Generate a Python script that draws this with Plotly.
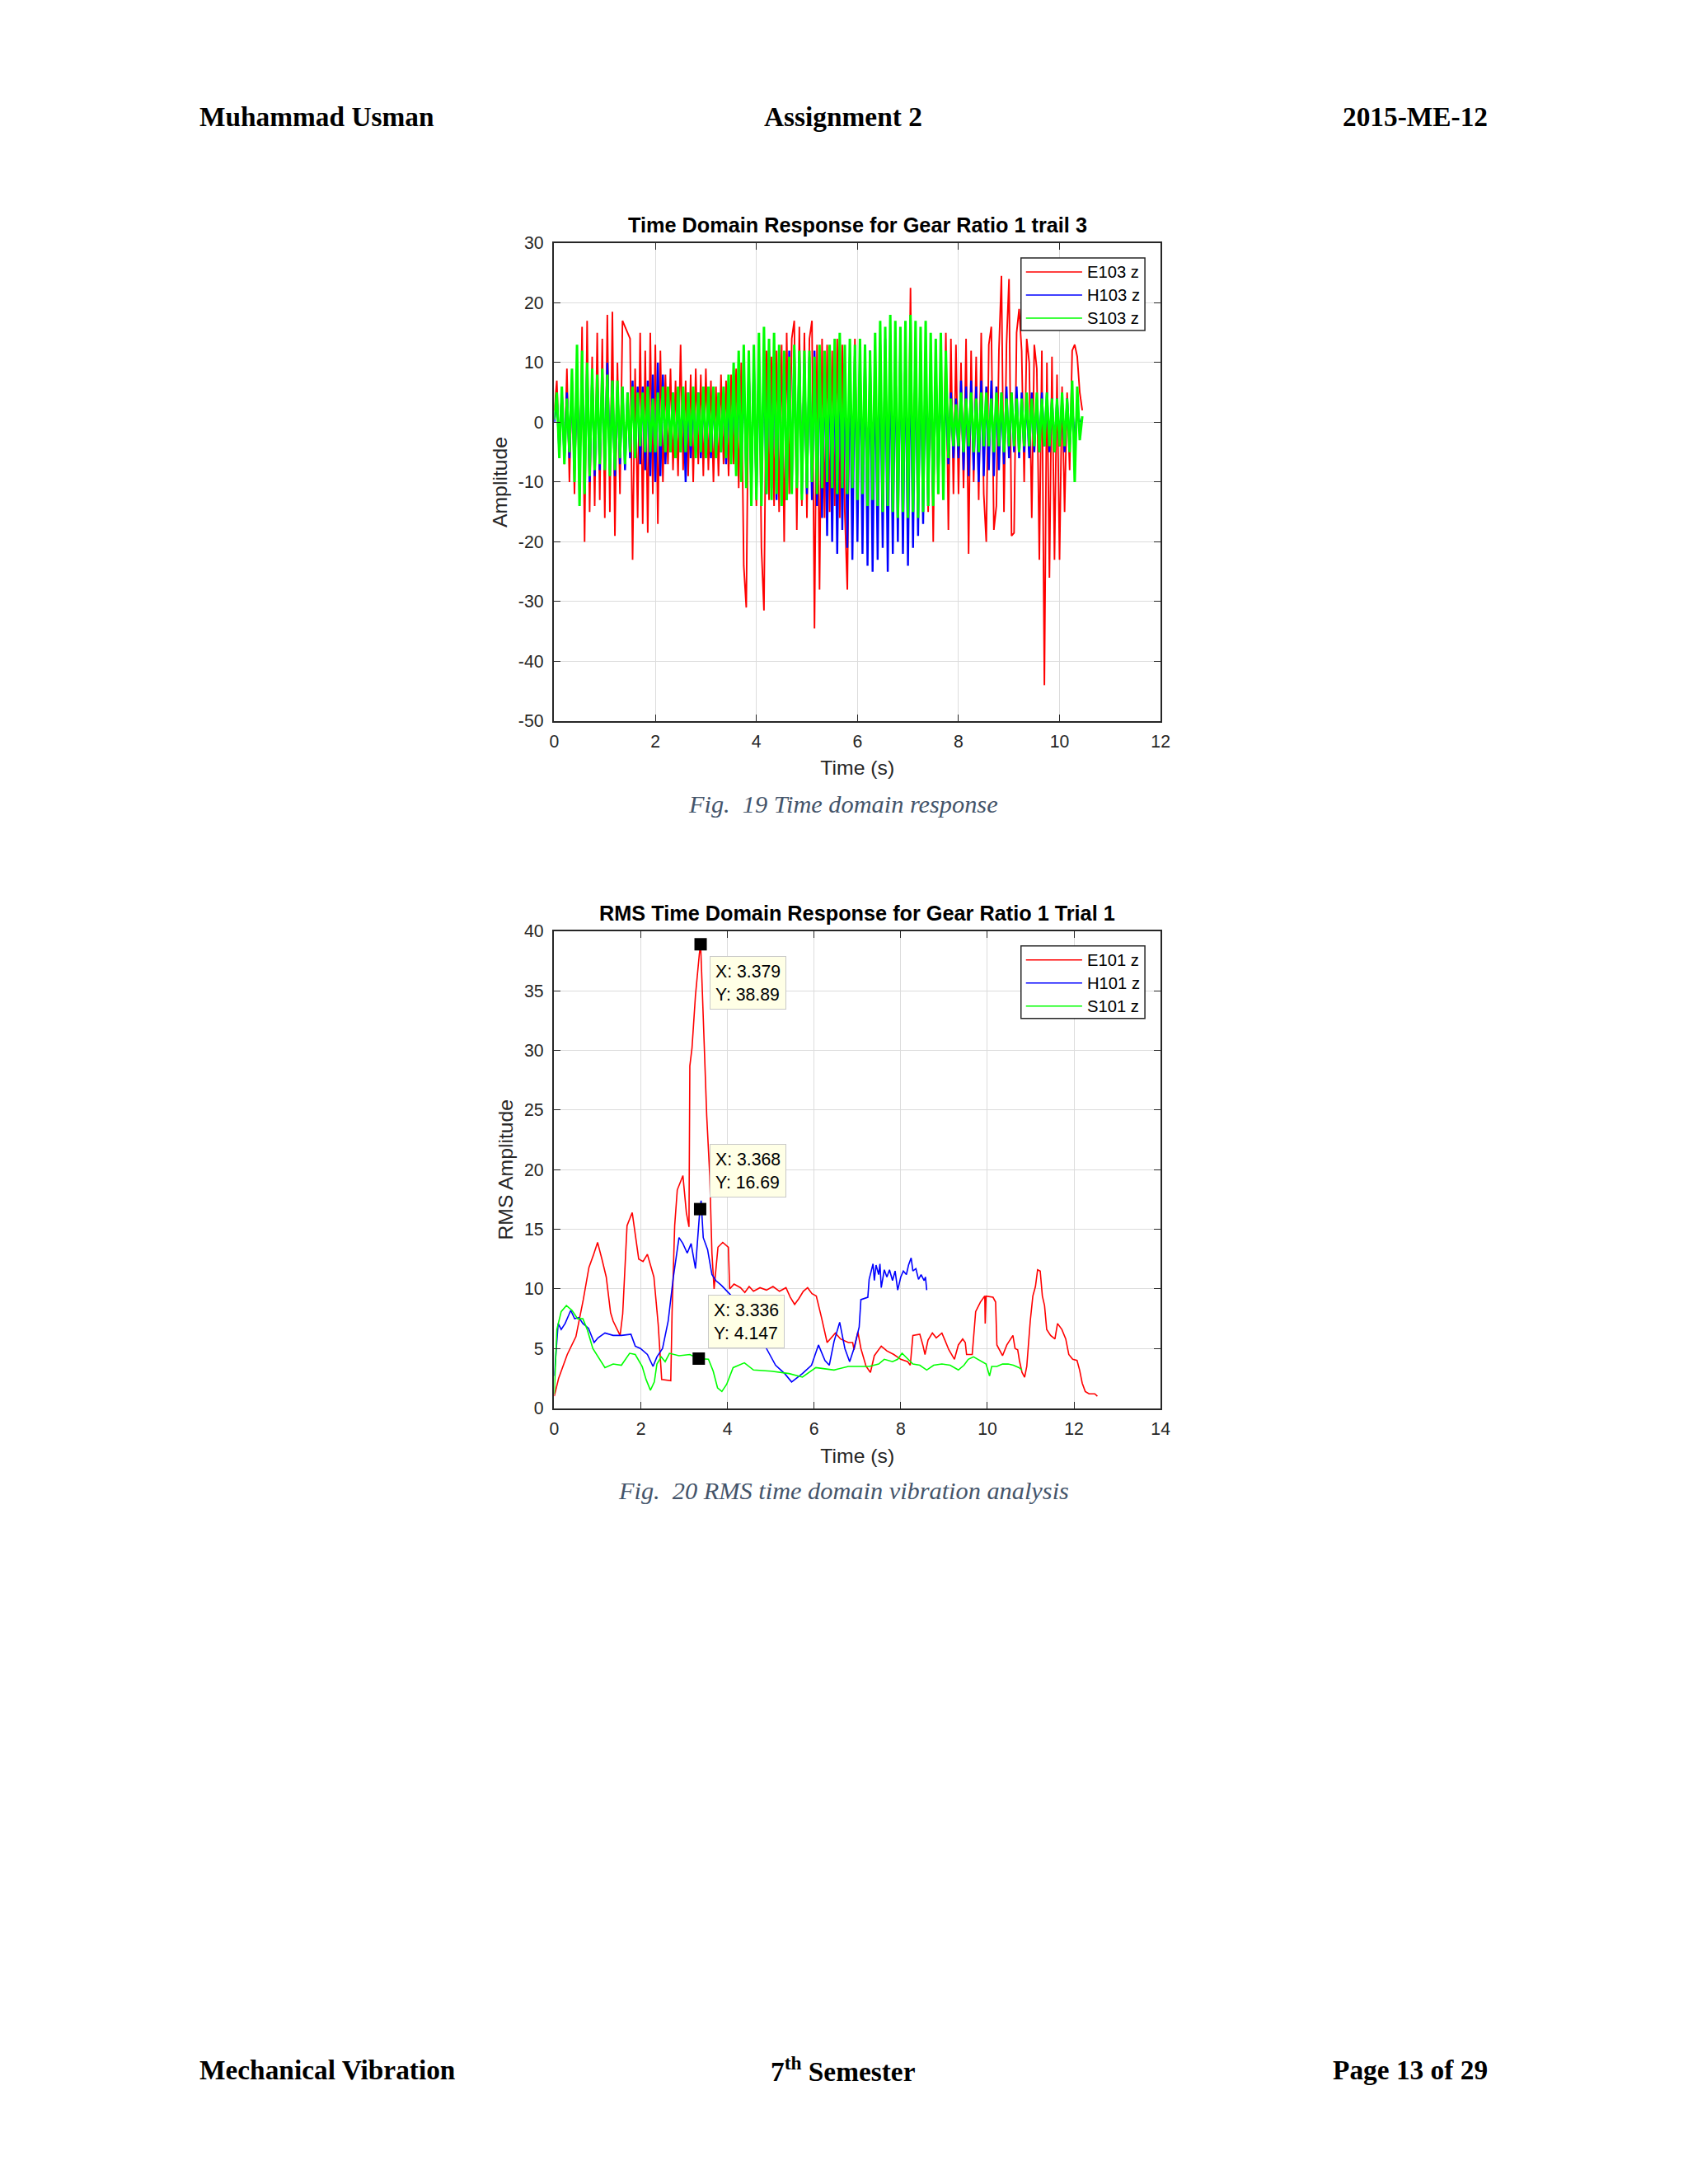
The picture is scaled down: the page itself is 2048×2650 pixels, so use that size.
import numpy as np
import plotly.graph_objects as go

# ---------------- Top chart: raw time-domain signals (Gear Ratio 1, trail 3) -------------
dt_raw = 0.05  # sample step of the digitised signals (s)

e103_z = [
    2, 7, -5, 6, -7, 9, -10, 8, -12, 10, -13, 16, -20, 17, -15, 11, -14, 15, -13, 14,
    -16, 18, -15, 18.5, -19, 10, -12, 17, 16, 15, 14, -23, 9, -16, 15, -17, 12, -18.5, 15, -12,
    13, -17, 12, -10, 8, -7, 9, -8, 7, -9, 13, -8, 7, -9, 8, -10, 9, -7, 8, -9,
    9, -8, 7, -10, 6, -9, 8, -7, 7, -9, 8, -7, 9, -11, 10, -24, -31, 12, -12, 11,
    -14, 13, -21, -31.5, 12, -13, 11, -14, 12, -15, 13, -20, 15, -12, 14, 17, -18, 16, -14, 15,
    -16, 14, 17, -34.5, 13, -28, 14, -16, 13, -15, 12, -14, 14, -16, 13, -15, -28, 12, -13, 14,
    -13, 12, -14, 13, -15, 12, -16, 13, -14, 12, -15, 14, -13, 12, -16, 13, -14, 15, -13, 14,
    -14, 22.5, -15, 14, -13, 12, -14, 13, -15, 12, -20, 13, -12, 11, -10, 15, -18, 14, -12, 13,
    -12, 10, -11, 14, -22, 12, -10, 11, -13, 15, -12, -20, 13, 16, -18, -14, 12, 24.5, -15, 13,
    24, -19, -18.5, 15, 19, 12, -10, 14, 10, -16, 13, 9, -23, 12, -44, 10, -26, 11, -23, 8,
    -23, 6, -15, 5, -8, 12, 13, 11, 5, 2,
]

h103_z = [
    0, 4, -5, 5, -6, 5, -6, 7, -8, 6, -7, 8, -7, 9, -10, 8, -9, 7, -8, 8,
    -7, 10, -8, 7, -9, 6, -7, 6, -8, 5, -6, 7, -6, 6, -7, 6, -8, 7, -9, 8,
    -10, 10, -9, 8, -7, 5, -5, 5, -6, 4, -5, 5, -10, 5, -6, 4, -5, 5, -6, 4,
    -5, 4, -6, 4, -5, 4, -5, 5, -7, 4, -5, 5, -6, 6, -8, 8, -9, 9, -11, 10,
    -12, 11, -11, 10, -12, 12, -11, 10, -13, 11, -12, 10, -13, 12, -11, 12, -10, 11, -12, 10,
    -12, 11, -13, 12, -14, 10, -16, 11, -19, 12, -20, 11, -22, 12, -18, 10, -21, 11, -23, 12,
    -20, 12, -22, 13, -24, 12, -25, 11, -23, 13, -21, 14, -25, 13, -22, 12, -20, 14, -22, 13,
    -24, 12, -21, 13, -19, 12, -17, 11, -14, 10, -13, 9, -10, 8, -9, 6, -7, 5, -6, 4,
    -6, 7, -8, 6, -9, 7, -8, 6, -10, 7, -9, 6, -8, 7, -9, 6, -8, 5, -7, 6,
    -6, 5, -5, 6, -6, 5, -5, 4, -6, 5, -5, 4, -5, 5, -4, 5, -5, 4, -5, 4,
    -4, 4, -5, 4, -4, 3, -3, 2, 0,
]

s103_z = [
    0.5, 5, -6, 6, -7, 4, -5, 9, -10, 13, -14, 12, -12, 10, -9, 9, -8, 8, -7, 9,
    -8, 8, -9, 7, -8, 7, -6, 6, -7, 5, -5, 6, -6, 5, -4, 5, -5, 6, -5, 4,
    -5, 5, -4, 6, -5, 6, -5, 5, -6, 6, -5, 6, -5, 5, -4, 6, -6, 5, -5, 6,
    -6, 6, -5, 6, -6, 5, -5, 6, -6, 8, -7, 10, -9, 12, -10, 13, -11, 12, -14, 13,
    -13, 15, -14, 16, -12, 14, -13, 15, -12, 13, -14, 12, -13, 11, -12, 13, -11, 12, -13, 12,
    -11, 12, -10, 11, -12, 13, -11, 12, -10, 13, -11, 14, -12, 15, -11, 13, -12, 14, -11, 13,
    -13, 14, -12, 13, -14, 12, -13, 15, -14, 17, -15, 16, -14, 18, -15, 17, -16, 16, -15, 17,
    -16, 18, -15, 17, -16, 16, -15, 17, -14, 15, -14, 14, -12, 15, -13, 12, -6, 4, -4, 3,
    -4, 5, -5, 4, -4, 5, -5, 4, -5, 5, -4, 5, -4, 4, -5, 5, -4, 5, -5, 4,
    -4, 5, -4, 4, -5, 4, -4, 5, -4, 4, -4, 5, -5, 4, -4, 5, -4, 4, -5, 4,
    -4, 5, -4, 4, -5, 7, -10, 6, -3, 1,
]

# ---------------- Bottom chart: RMS response (Gear Ratio 1, Trial 1), (time, value) -------
e101_rms = [
    (0, 1.0), (0.1, 2.5), (0.3, 4.5), (0.5, 6.0), (0.67, 9.1), (0.8, 11.8), (0.9, 12.8),
    (1.0, 13.9), (1.1, 12.5), (1.2, 11.0), (1.3, 8.0), (1.36, 7.3), (1.52, 6.1), (1.58, 7.9),
    (1.68, 15.3), (1.8, 16.4), (1.95, 12.5), (2.05, 12.3), (2.15, 12.9), (2.3, 11.0),
    (2.4, 7.0), (2.48, 2.4), (2.69, 2.3), (2.72, 8.0), (2.78, 15.3), (2.84, 18.3), (2.97, 19.5),
    (3.05, 16.4), (3.11, 15.2), (3.13, 28.7), (3.18, 30.2), (3.26, 34.6), (3.35, 38.1),
    (3.379, 38.89), (3.42, 34.8), (3.52, 24.5), (3.59, 19.5), (3.64, 13.0), (3.69, 10.0),
    (3.78, 13.5), (3.89, 13.9), (4.02, 13.5), (4.05, 10.0), (4.15, 10.4), (4.3, 10.1),
    (4.4, 9.7), (4.5, 10.2), (4.6, 9.8), (4.75, 10.1), (4.9, 9.9), (5.05, 10.2), (5.2, 9.8),
    (5.35, 10.1), (5.45, 9.3), (5.55, 8.7), (5.65, 9.2), (5.75, 9.8), (5.85, 10.1),
    (5.95, 9.6), (6.05, 9.4), (6.17, 7.6), (6.3, 5.5), (6.49, 6.3), (6.61, 5.8), (6.79, 5.5),
    (6.89, 5.5), (6.92, 4.9), (7.01, 6.4), (7.08, 5.0), (7.2, 3.5), (7.3, 3.0), (7.39, 4.4),
    (7.55, 5.2), (7.68, 4.8), (7.84, 4.5), (8.0, 4.1), (8.16, 3.9), (8.22, 3.6), (8.28, 6.1),
    (8.44, 6.2), (8.51, 5.3), (8.56, 4.5), (8.63, 5.7), (8.73, 6.3), (8.82, 5.9), (8.95, 6.3),
    (9.02, 5.7), (9.11, 4.9), (9.24, 4.1), (9.33, 5.3), (9.43, 5.8), (9.49, 5.5), (9.52, 4.5),
    (9.65, 4.5), (9.73, 8.1), (9.84, 8.9), (9.94, 9.4), (9.95, 7.1), (9.97, 9.4),
    (10.13, 9.3), (10.19, 8.9), (10.22, 5.3), (10.35, 4.4), (10.45, 5.3), (10.59, 6.1),
    (10.64, 5.0), (10.7, 4.9), (10.74, 4.0), (10.8, 3.0), (10.86, 2.6), (10.91, 3.5),
    (10.99, 7.3), (11.05, 9.4), (11.11, 10.2), (11.16, 11.6), (11.22, 11.5), (11.27, 9.4),
    (11.32, 8.6), (11.37, 6.6), (11.46, 6.1), (11.56, 5.8), (11.62, 7.1), (11.72, 6.6),
    (11.81, 5.8), (11.88, 4.5), (11.97, 4.1), (12.07, 4.0), (12.13, 3.2), (12.19, 2.1),
    (12.26, 1.4), (12.35, 1.2), (12.48, 1.2), (12.54, 1.0),
]

h101_rms = [
    (0, 2.7), (0.09, 7.1), (0.16, 6.6), (0.25, 7.1), (0.38, 8.2), (0.47, 7.5), (0.57, 7.6),
    (0.66, 7.1), (0.79, 6.7), (0.92, 5.5), (1.01, 5.9), (1.17, 6.3), (1.36, 6.1), (1.55, 6.1),
    (1.77, 6.2), (1.87, 5.2), (1.99, 5.0), (2.15, 4.5), (2.28, 3.5), (2.37, 4.3), (2.5, 5.0),
    (2.63, 7.3), (2.75, 11.0), (2.88, 14.3), (2.97, 13.8), (3.07, 13.0), (3.16, 13.8),
    (3.26, 11.7), (3.35, 16.1), (3.368, 16.69), (3.39, 17.4), (3.44, 14.3), (3.54, 13.3),
    (3.64, 11.2), (3.73, 10.7), (3.86, 10.3), (4.2, 9.0), (4.5, 7.5), (4.8, 6.0), (4.9, 5.0),
    (5.11, 3.6), (5.32, 2.9), (5.48, 2.2), (5.73, 2.9), (5.94, 3.6), (6.1, 5.3), (6.25, 4.0),
    (6.35, 3.6), (6.46, 5.6), (6.59, 7.2), (6.71, 5.0), (6.82, 3.9), (6.92, 5.0), (7.04, 6.8),
    (7.08, 9.1), (7.24, 9.3), (7.27, 10.8), (7.36, 12.1), (7.39, 10.7), (7.43, 12.0),
    (7.49, 11.2), (7.52, 12.1), (7.55, 10.1), (7.62, 11.6), (7.68, 11.0), (7.74, 11.6),
    (7.81, 10.7), (7.87, 11.5), (7.93, 9.9), (8.0, 11.0), (8.06, 11.5), (8.13, 11.2),
    (8.18, 12.0), (8.24, 12.6), (8.28, 11.5), (8.35, 11.7), (8.41, 10.8), (8.47, 11.2),
    (8.54, 10.7), (8.57, 11.0), (8.6, 9.9),
]

s101_rms = [
    (0, 1.2), (0.06, 6.6), (0.16, 8.1), (0.28, 8.6), (0.41, 8.2), (0.54, 7.5), (0.66, 7.5),
    (0.76, 6.6), (0.89, 5.0), (1.04, 4.1), (1.17, 3.4), (1.36, 3.7), (1.55, 3.6), (1.74, 4.6),
    (1.87, 4.5), (2.03, 3.5), (2.12, 2.4), (2.22, 1.5), (2.31, 2.2), (2.37, 3.7), (2.47, 4.3),
    (2.56, 3.9), (2.66, 4.6), (2.88, 4.4), (3.13, 4.5), (3.336, 4.147), (3.56, 4.1),
    (3.67, 3.1), (3.77, 1.7), (3.87, 1.4), (3.98, 2.0), (4.13, 3.4), (4.39, 3.8), (4.6, 3.2),
    (5.01, 3.1), (5.42, 2.9), (5.73, 2.6), (6.04, 3.4), (6.46, 3.2), (6.79, 3.5), (7.11, 3.5),
    (7.27, 3.5), (7.49, 3.7), (7.62, 4.1), (7.81, 3.9), (7.93, 4.1), (8.03, 4.6), (8.16, 4.1),
    (8.28, 3.7), (8.44, 3.6), (8.6, 3.2), (8.76, 3.6), (8.95, 3.7), (9.14, 3.6), (9.33, 3.2),
    (9.46, 3.6), (9.56, 4.1), (9.68, 4.3), (9.84, 4.0), (9.97, 3.7), (10.05, 2.7), (10.1, 3.5),
    (10.22, 3.5), (10.35, 3.7), (10.48, 3.7), (10.6, 3.6), (10.73, 3.4), (10.8, 3.2),
]

# data tips (x, y)
datatip_x = [3.379, 3.368, 3.336]
datatip_y = [38.89, 16.69, 4.147]
datatip_box_x = [3.59, 3.59, 3.55]
datatip_box_y = [35.65, 19.9, 7.25]

top_x_ticks = [0, 2, 4, 6, 8, 10, 12]
top_y_ticks = [-50, -40, -30, -20, -10, 0, 10, 20, 30]
bot_x_ticks = [0, 2, 4, 6, 8, 10, 12, 14]
bot_y_ticks = [0, 5, 10, 15, 20, 25, 30, 35, 40]

top_series = [("E103 z", e103_z, "#FF0000", 1.9), ("H103 z", h103_z, "#0000FF", 2.4),
              ("S103 z", s103_z, "#00FF00", 3.0)]
bot_series = [("E101 z", e101_rms, "#FF0000"), ("H101 z", h101_rms, "#0000FF"),
              ("S101 z", s101_rms, "#00FF00")]

# ---------------------------------------------------------------------------------------
W, H = 2048, 2650
# the captured picture comes out slightly shrunk about the page; place items so that
# they land on the reference pixel positions
SX, CX = 0.989, 9.0
SY, CY = 0.9916, 10.9
FS = 1.0 / SX


def X(p):
    return ((p - CX) / SX) / W


def Y(p):
    return 1 - ((p - CY) / SY) / H


SANS = "Liberation Sans, Arial, Helvetica, sans-serif"
SERIF = "Liberation Serif, Times New Roman, serif"
AX = "#262626"
GRID = "#DCDCDC"

fig = go.Figure()

for name, vals, col, lw in top_series:
    t = np.arange(len(vals)) * dt_raw
    fig.add_trace(go.Scatter(x=t, y=vals, mode="lines", name=name, showlegend=False,
                             line=dict(color=col, width=lw), xaxis="x", yaxis="y"))

for name, pts, col in bot_series:
    fig.add_trace(go.Scatter(x=[p[0] for p in pts], y=[p[1] for p in pts], mode="lines",
                             name=name, showlegend=False, line=dict(color=col, width=1.6),
                             xaxis="x2", yaxis="y2"))

fig.add_trace(go.Scatter(x=datatip_x, y=datatip_y, mode="markers", showlegend=False,
                         marker=dict(symbol="square", size=15, color="black"),
                         xaxis="x2", yaxis="y2"))

xdom = [X(674), X(1408)]
top_dom = [Y(874), Y(294)]
bot_dom = [Y(1708), Y(1129)]

axis_common = dict(showline=True, linecolor=AX, linewidth=1.5, mirror="ticks",
                   ticks="inside", ticklen=8, tickcolor=AX, tickwidth=1.2,
                   showgrid=True, gridcolor=GRID, gridwidth=1, zeroline=False,
                   tickfont=dict(family=SANS, size=21 * FS, color=AX))
lab_font = dict(family=SANS, size=24.5 * FS, color=AX)


def lbl(v):
    return str(v)  # MATLAB style hyphen-minus


fig.update_layout(
    width=W, height=H, autosize=False,
    margin=dict(l=0, r=0, t=0, b=0),
    paper_bgcolor="white", plot_bgcolor="white", showlegend=False,
    xaxis=dict(domain=xdom, anchor="y", range=[0, 12], tickvals=top_x_ticks,
               ticktext=[lbl(v) for v in top_x_ticks], ticklabelstandoff=5,
               title=dict(text="Time (s)", font=lab_font, standoff=13), **axis_common),
    yaxis=dict(domain=top_dom, anchor="x", range=[-50, 30], tickvals=top_y_ticks,
               ticktext=[lbl(v) for v in top_y_ticks], ticklabelstandoff=7,
               title=dict(text="Amplitude", font=lab_font, standoff=6), **axis_common),
    xaxis2=dict(domain=xdom, anchor="y2", range=[0, 14], tickvals=bot_x_ticks,
                ticktext=[lbl(v) for v in bot_x_ticks], ticklabelstandoff=5,
                title=dict(text="Time (s)", font=lab_font, standoff=14), **axis_common),
    yaxis2=dict(domain=bot_dom, anchor="x2", range=[0, 40], tickvals=bot_y_ticks,
                ticktext=[lbl(v) for v in bot_y_ticks], ticklabelstandoff=7,
                title=dict(text="RMS Amplitude", font=lab_font, standoff=6), **axis_common),
)

ann = []
shapes = []
# page header / footer
hdr_font = dict(family=SERIF, size=33 * FS, color="black")
hf = [
    ("<b>Muhammad Usman</b>", 242, 140, "left"),
    ("<b>Assignment 2</b>", 1024, 140, "center"),
    ("<b>2015-ME-12</b>", 1806, 140, "right"),
    ("<b>Mechanical Vibration</b>", 242, 2511, "left"),
    ("<b>7<sup>th</sup> Semester</b>", 1024, 2511, "center"),
    ("<b>Page 13 of 29</b>", 1806, 2511, "right"),
]
for txt, xpx, ypx, xa in hf:
    ann.append(dict(text=txt, x=X(xpx), y=Y(ypx), xref="paper", yref="paper",
                    xanchor=xa, yanchor="middle", showarrow=False, font=hdr_font))

# chart titles
title_font = dict(family=SANS, size=25 * FS, color="black")
for txt, ypx in [("<b>Time Domain Response for Gear Ratio 1 trail 3</b>", 272),
                 ("<b>RMS Time Domain Response for Gear Ratio 1 Trial 1</b>", 1107)]:
    ann.append(dict(text=txt, x=X(1041), y=Y(ypx), xref="paper", yref="paper",
                    showarrow=False, xanchor="center", yanchor="middle", font=title_font))

# captions
cap_font = dict(family=SERIF, size=30 * FS, color="#44546A")
for txt, ypx in [("<i>Fig.  19 Time domain response</i>", 975),
                 ("<i>Fig.  20 RMS time domain vibration analysis</i>", 1808)]:
    ann.append(dict(text=txt, x=X(1024), y=Y(ypx), xref="paper", yref="paper",
                    showarrow=False, xanchor="center", yanchor="middle", font=cap_font))

# data tips
for dx, dy, bx, by in zip(datatip_x, datatip_y, datatip_box_x, datatip_box_y):
    ann.append(dict(text=f"X: {dx}<br>Y: {dy}", x=bx, y=by, xref="x2", yref="y2",
                    showarrow=False, xanchor="left", yanchor="middle", align="left",
                    bgcolor="#FFFFE6", bordercolor="#C8C8C8", borderwidth=1, borderpad=6,
                    font=dict(family=SANS, size=21 * FS, color="black")))

# MATLAB-style legend boxes (drawn in page pixels)
for series, box_top in [(top_series, 312), (bot_series, 1147)]:
    shapes.append(dict(type="rect", xref="paper", yref="paper", x0=X(1239), x1=X(1389),
                       y0=Y(box_top), y1=Y(box_top + 88), fillcolor="white",
                       line=dict(color=AX, width=1.5), layer="above"))
    for i, item in enumerate(series):
        name, col = item[0], item[2]
        ypos = box_top + 17 + i * 28
        shapes.append(dict(type="line", xref="paper", yref="paper", x0=X(1245), x1=X(1313),
                           y0=Y(ypos), y1=Y(ypos), line=dict(color=col, width=1.6),
                           layer="above"))
        ann.append(dict(text=name, x=X(1317), y=Y(ypos), xref="paper", yref="paper",
                        xanchor="left", yanchor="middle", showarrow=False,
                        font=dict(family=SANS, size=20 * FS, color="black")))

fig.update_layout(annotations=ann, shapes=shapes)
fig.write_html(
    "out.html",
    config={"displayModeBar": False, "responsive": False},
    post_script=("document.documentElement.style.margin='0px';"
                 "document.documentElement.style.overflow='hidden';"
                 "document.body.style.margin='0px';"
                 "document.body.style.overflow='hidden';"),
)
